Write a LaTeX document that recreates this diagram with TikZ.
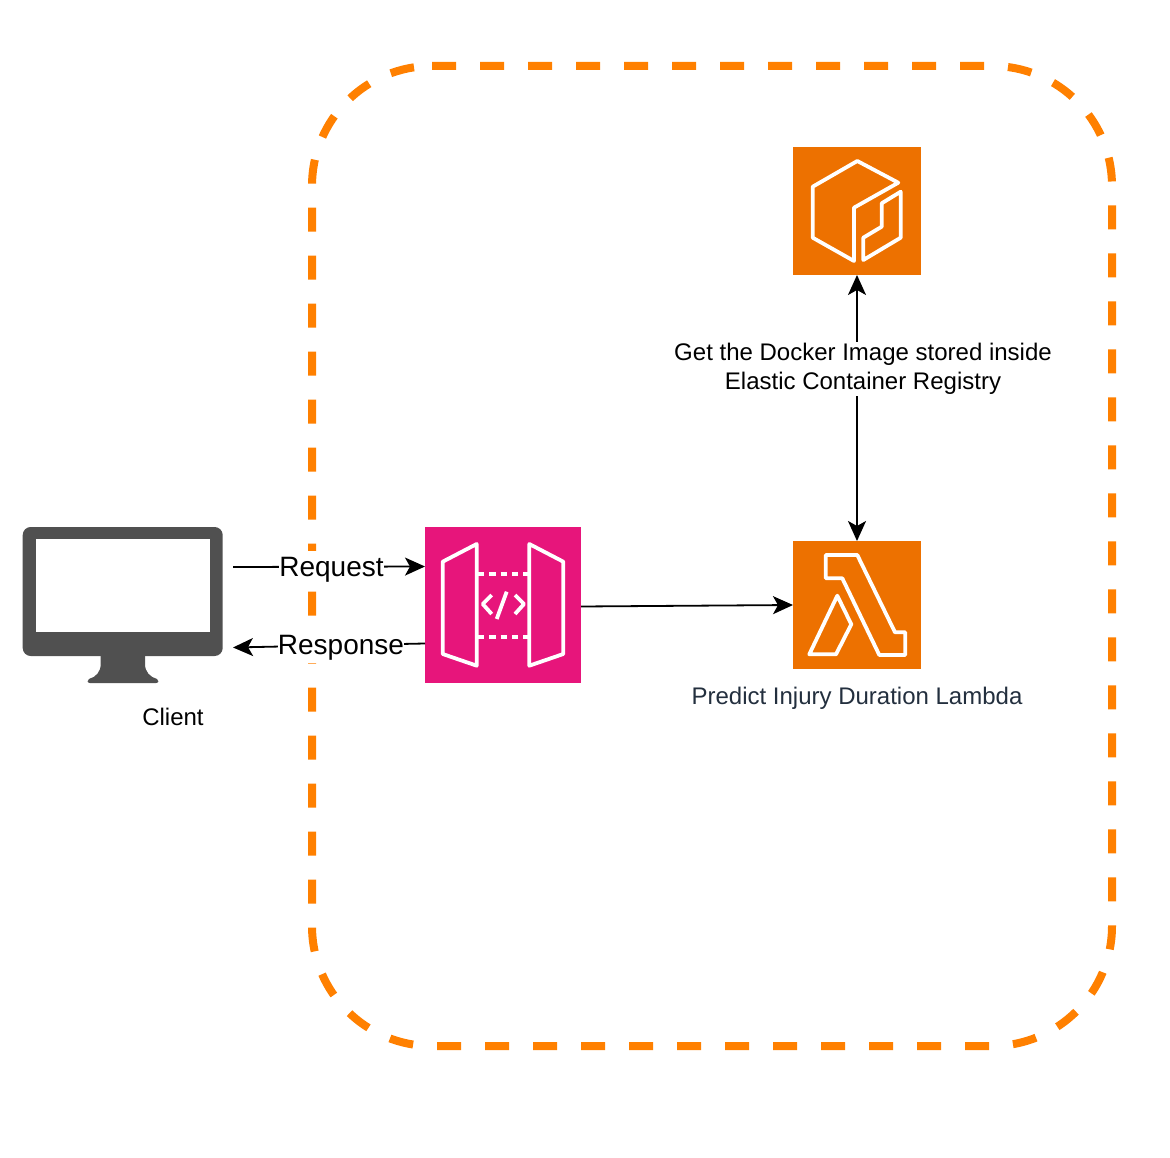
\documentclass[tikz,border=0pt]{standalone}
\usepackage{fontspec}
\setmainfont{Liberation Sans}
\usetikzlibrary{arrows.meta}
\definecolor{grouporange}{HTML}{FF8000}
\definecolor{awsorange}{HTML}{ED7100}
\definecolor{awspink}{HTML}{E7157B}
\definecolor{monitorgrey}{HTML}{505050}
\definecolor{awsdark}{HTML}{232F3E}
\tikzset{
  iconbox/.style={draw=none,inner sep=0pt,outer sep=0pt,minimum size=#1},
  glyph/.style={draw=white,line width=3.8pt,line join=round,fill=none},
  conn/.style={draw=black,line width=1.8pt,-{Stealth[length=20pt,width=18pt,inset=5pt]}},
  biconn/.style={draw=black,line width=1.8pt,{Stealth[length=20pt,width=18pt,inset=5pt]}-{Stealth[length=20pt,width=18pt,inset=5pt]}},
  lbl/.style={font=\fontsize{24}{29}\selectfont,align=center,inner sep=1pt,text=black},
  onwhite/.style={lbl,fill=white},
  big/.style={font=\fontsize{28}{32}\selectfont,fill=white,inner sep=0pt,text=black,anchor=base},
}
\begin{document}
\begin{tikzpicture}[x=1pt,y=-1pt]
\useasboundingbox (0,0) rectangle (1170,1158);
\fill[white] (0,0) rectangle (1170,1158);
% group
\draw[grouporange,line width=8pt,dash pattern=on 24pt off 24pt]
  (432,66) -- (992,66) .. controls (1058.3,66) and (1112,119.7) .. (1112,186)
  -- (1112,926) .. controls (1112,992.3) and (1058.3,1046) .. (992,1046)
  -- (432,1046) .. controls (365.7,1046) and (312,992.3) .. (312,926)
  -- (312,186) .. controls (312,119.7) and (365.7,66) .. (432,66);
% nodes
\node[iconbox=128pt,fill=awsorange] (ecr) at (857,211) {};
\node[iconbox=128pt,fill=awsorange] (lambda) at (857,605) {};
\node[iconbox=156pt,fill=awspink] (api) at (503,605) {};
% ECR glyph
\draw[glyph] (857.3,161) -- (898.3,182.7) -- (854,207.7) -- (854,261) -- (812.7,237.7) -- (812.7,186.7) -- cycle;
\draw[glyph] (900.7,191.7) -- (900.7,237.7) -- (863.3,260) -- (863.3,237.7) -- (881.7,226.7) -- (881.7,203.3) -- cycle;
% Lambda glyph
\draw[glyph] (825.7,555) -- (857.3,555) -- (895,632.3) -- (905.3,632.3) -- (905.3,655) -- (879.3,655) -- (842.3,578.3) -- (825.7,578.3) -- cycle;
\draw[glyph] (837.3,595.7) -- (851.3,624.3) -- (836,654.3) -- (809.3,654.3) -- cycle;
% API glyph
\draw[glyph] (442.7,561.7) -- (476.7,544) -- (476.7,665.7) -- (442.7,654) -- cycle;
\draw[glyph] (529.3,544) -- (563.3,561.7) -- (563.3,654) -- (529.3,665.7) -- cycle;
\draw[glyph,dash pattern=on 6.3pt off 5pt] (478,574.3) -- (529,574.3);
\draw[glyph,dash pattern=on 6.3pt off 5pt] (478,637.3) -- (529,637.3);
\draw[glyph] (491.7,595) -- (482.7,604) -- (491.7,614);
\draw[glyph] (506.7,591.7) -- (496.7,619);
\draw[glyph] (515,595) -- (524,604) -- (515,614);
% monitor
\node[iconbox=0pt,minimum width=200pt,minimum height=129pt] (client) at (122.7,591.5) {};
\fill[monitorgrey,rounded corners=8pt] (22.7,527) rectangle (222.7,656);
\fill[monitorgrey] (100.7,650) -- (145,650) -- (145,664) .. controls (145,672) and (150,677) .. (157,679)
  .. controls (159,680) and (159,683) .. (156,683) -- (90,683) .. controls (87,683) and (87,680) .. (89,679)
  .. controls (96,677) and (100.7,672) .. (100.7,664) -- cycle;
\fill[white] (36,539) rectangle (210,631.7);
% connector ends
\coordinate (reqstart) at (233,567);
\coordinate (resend) at (233,647.5);
\coordinate (reqend) at (425,566.5);
\coordinate (resstart) at (425,643.5);
\coordinate (apiout) at (581,606.5);
% connectors
\draw[conn] (reqstart) -- (reqend);
\draw[conn] (resstart) -- (resend);
\draw[conn] (apiout) -- (lambda.west);
\draw[biconn] (lambda.north) -- (ecr.south);
% labels
\node[big,text height=25pt,text depth=8pt] (request) at (331.5,576) {Request};
\node[big,text height=24pt,text depth=9pt] (response) at (341,654) {Response};
\node[onwhite] (ecrlabel) at (863,369) {Get the Docker Image stored inside\\Elastic Container Registry};
\node[lbl] (clientlabel) at (173,717) {Client};
\node[lbl,text=awsdark] (lambdalabel) at (857,698) {Predict Injury Duration Lambda};
\end{tikzpicture}
\end{document}
